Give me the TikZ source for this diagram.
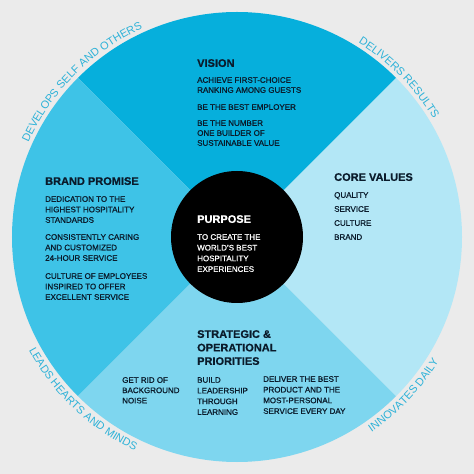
\documentclass[tikz,border=0pt]{standalone}
\usepackage{fontspec}
\setmainfont{Liberation Sans}[BoldFeatures={FakeBold=0.6}]
\newfontfamily\bodyfont{Liberation Sans}[FakeBold=0.9]
\usetikzlibrary{decorations.text}
\definecolor{bg}{HTML}{EBEBEB}
\definecolor{visc}{HTML}{06AFDC}
\definecolor{brandc}{HTML}{3EC3E7}
\definecolor{stratc}{HTML}{7ED6EF}
\definecolor{corec}{HTML}{B3E7F6}
\definecolor{ink}{HTML}{0A1B2B}
\definecolor{outc}{HTML}{2EB2D8}
\newcommand\outerfont{\fontsize{11}{13}\selectfont}
\begin{document}
\begin{tikzpicture}[x=1pt,y=1pt,
  head/.style={anchor=north west, inner sep=0pt, align=left, font=\fontsize{11}{13.5}\selectfont\bfseries, text=ink},
  body/.style={anchor=north west, inner sep=0pt, align=left, font=\bodyfont\fontsize{8}{10}\selectfont, text=ink},
  outerlabel/.style={decorate, decoration={text along path, text align=center, text color=outc, text={|\outerfont|#1}}}
  ]
\useasboundingbox (0,0) rectangle (474,474);
\fill[bg] (0,0) rectangle (474,474);
\coordinate (c) at (237,237);
% sectors
\fill[visc] (c) -- ++(45:225pt) arc[start angle=45, end angle=135, radius=225pt] -- cycle;
\fill[brandc] (c) -- ++(135:225pt) arc[start angle=135, end angle=225, radius=225pt] -- cycle;
\fill[stratc] (c) -- ++(225:225pt) arc[start angle=225, end angle=315, radius=225pt] -- cycle;
\fill[corec] (c) -- ++(-45:225pt) arc[start angle=-45, end angle=45, radius=225pt] -- cycle;
\fill[black] (c) circle[radius=66pt];
% outer labels
\path[shift={(c)}, outerlabel={DEVELOPS SELF AND OTHERS}] (165:229pt) arc[start angle=165, end angle=105, radius=229pt];
\path[shift={(c)}, outerlabel={DELIVERS RESULTS}] (75:229pt) arc[start angle=75, end angle=14, radius=229pt];
\path[shift={(c)}, outerlabel={LEADS HEARTS AND MINDS}] (196:237pt) arc[start angle=196, end angle=257, radius=237pt];
\path[shift={(c)}, outerlabel={INNOVATES DAILY}] (-73:237pt) arc[start angle=-73, end angle=-14, radius=237pt];
% vision
\node[head] (vishead) at (197,415) {VISION};
\node[body] (visbody) at (197,397) {ACHIEVE FIRST-CHOICE\\RANKING AMONG GUESTS\\[7pt]BE THE BEST EMPLOYER\\[6pt]BE THE NUMBER\\ONE BUILDER OF\\SUSTAINABLE VALUE};
% brand promise
\node[head] (brandhead) at (45,297) {BRAND PROMISE};
\node[body, font=\bodyfont\fontsize{8}{10.5}\selectfont] (brandbody) at (45,278) {DEDICATION TO THE\\HIGHEST HOSPITALITY\\STANDARDS\\[6.5pt]CONSISTENTLY CARING\\AND CUSTOMIZED\\24-HOUR SERVICE\\[7.5pt]CULTURE OF EMPLOYEES\\INSPIRED TO OFFER\\EXCELLENT SERVICE};
% core values
\node[head] (corehead) at (334,301) {CORE VALUES};
\node[body, font=\bodyfont\fontsize{8}{14}\selectfont] (corebody) at (334,282) {QUALITY\\SERVICE\\CULTURE\\BRAND};
% purpose
\node[head, text=white] (purphead) at (197,259) {PURPOSE};
\node[body, text=white, font=\bodyfont\fontsize{8}{10.7}\selectfont] (purpbody) at (197,240) {TO CREATE THE\\WORLD’S BEST\\HOSPITALITY\\EXPERIENCES};
% strategic
\node[head] (strathead) at (197,144) {STRATEGIC \&\\OPERATIONAL\\PRIORITIES};
\node[body, font=\bodyfont\fontsize{8}{10.3}\selectfont] (stratA) at (122,97) {GET RID OF\\BACKGROUND\\NOISE};
\node[body, font=\bodyfont\fontsize{8}{10.7}\selectfont] (stratB) at (197,97) {BUILD\\LEADERSHIP\\THROUGH\\LEARNING};
\node[body, font=\bodyfont\fontsize{8}{10.7}\selectfont] (stratC) at (263,98) {DELIVER THE BEST\\PRODUCT AND THE\\MOST-PERSONAL\\SERVICE EVERY DAY};
\end{tikzpicture}
\end{document}
